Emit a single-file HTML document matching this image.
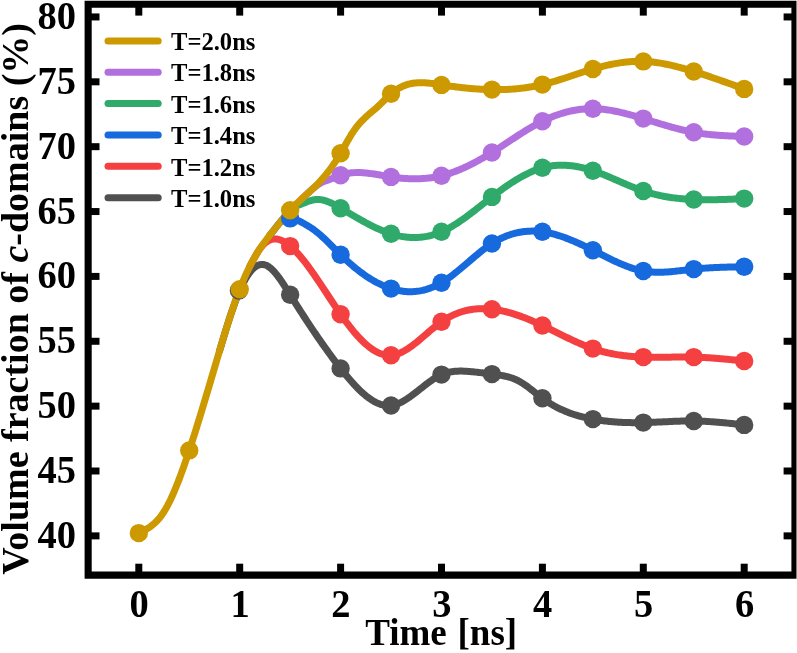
<!DOCTYPE html>
<html><head><meta charset="utf-8"><style>
html,body{margin:0;padding:0;background:#fff;width:797px;height:653px;overflow:hidden}
svg{display:block;will-change:transform}
text{font-family:"Liberation Serif",serif;font-weight:bold;fill:#000}
.tk{font-size:38.5px}
.lg{font-size:24.6px}
.ttl{font-size:36.6px}
</style></head><body>
<svg width="797" height="653" viewBox="0 0 797 653">
<rect x="0" y="0" width="797" height="653" fill="#fff"/>
<polyline points="219.52,350.94 221.02,345.92 222.52,340.94 224.02,336.01 225.52,331.12 227.02,326.29 228.51,321.55 230.01,316.91 231.51,312.39 233.01,308.02 234.51,303.80 236.01,299.75 237.51,295.89 239.01,292.22 240.51,288.77 242.01,285.54 243.51,282.53 245.00,279.74 246.50,277.19 248.00,274.86 249.50,272.76 251.00,270.89 252.50,269.25 254.00,267.85 255.50,266.68 257.00,265.75 258.50,265.06 260.00,264.61 261.49,264.40 262.99,264.44 264.49,264.72 265.99,265.24 267.49,265.99 268.99,266.95 270.49,268.11 271.99,269.45 273.49,270.96 274.99,272.63 276.49,274.43 277.98,276.36 279.48,278.40 280.98,280.53 282.48,282.75 283.98,285.03 285.48,287.36 286.98,289.73 288.48,292.12 289.98,294.52 291.48,296.92 292.98,299.30 294.47,301.68 295.97,304.05 297.47,306.40 298.97,308.75 300.47,311.09 301.97,313.41 303.47,315.73 304.97,318.03 306.47,320.32 307.97,322.60 309.47,324.86 310.96,327.11 312.46,329.35 313.96,331.58 315.46,333.79 316.96,335.98 318.46,338.16 319.96,340.33 321.46,342.48 322.96,344.61 324.46,346.73 325.96,348.83 327.45,350.91 328.95,352.98 330.45,355.03 331.95,357.06 333.45,359.07 334.95,361.06 336.45,363.04 337.95,364.99 339.45,366.93 340.95,368.84 342.45,370.73 343.94,372.60 345.44,374.44 346.94,376.26 348.44,378.04 349.94,379.79 351.44,381.51 352.94,383.19 354.44,384.82 355.94,386.42 357.44,387.97 358.93,389.47 360.43,390.92 361.93,392.31 363.43,393.66 364.93,394.94 366.43,396.17 367.93,397.33 369.43,398.43 370.93,399.46 372.43,400.42 373.93,401.31 375.42,402.12 376.92,402.86 378.42,403.51 379.92,404.09 381.42,404.57 382.92,404.97 384.42,405.28 385.92,405.50 387.42,405.62 388.92,405.64 390.42,405.56 391.91,405.38 393.41,405.10 394.91,404.72 396.41,404.26 397.91,403.70 399.41,403.07 400.91,402.36 402.41,401.59 403.91,400.75 405.41,399.85 406.91,398.90 408.40,397.90 409.90,396.86 411.40,395.78 412.90,394.67 414.40,393.54 415.90,392.38 417.40,391.20 418.90,390.02 420.40,388.83 421.90,387.64 423.40,386.46 424.89,385.29 426.39,384.13 427.89,383.00 429.39,381.89 430.89,380.82 432.39,379.78 433.89,378.79 435.39,377.84 436.89,376.95 438.39,376.12 439.89,375.35 441.38,374.65 442.88,374.03 444.38,373.47 445.88,372.99 447.38,372.57 448.88,372.21 450.38,371.91 451.88,371.66 453.38,371.46 454.88,371.31 456.38,371.20 457.87,371.13 459.37,371.09 460.87,371.09 462.37,371.12 463.87,371.17 465.37,371.24 466.87,371.32 468.37,371.42 469.87,371.54 471.37,371.67 472.87,371.80 474.36,371.95 475.86,372.11 477.36,372.27 478.86,372.45 480.36,372.62 481.86,372.81 483.36,372.99 484.86,373.19 486.36,373.38 487.86,373.57 489.36,373.77 490.85,373.96 492.35,374.15 493.85,374.34 495.35,374.54 496.85,374.74 498.35,374.95 499.85,375.17 501.35,375.42 502.85,375.68 504.35,375.98 505.85,376.30 507.34,376.67 508.84,377.07 510.34,377.51 511.84,378.00 513.34,378.54 514.84,379.14 516.34,379.80 517.84,380.52 519.34,381.31 520.84,382.17 522.34,383.10 523.83,384.08 525.33,385.12 526.83,386.20 528.33,387.32 529.83,388.46 531.33,389.63 532.83,390.82 534.33,392.02 535.83,393.21 537.33,394.40 538.83,395.58 540.32,396.74 541.82,397.87 543.32,398.97 544.82,400.03 546.32,401.06 547.82,402.05 549.32,403.00 550.82,403.93 552.32,404.81 553.82,405.67 555.32,406.50 556.81,407.29 558.31,408.06 559.81,408.79 561.31,409.50 562.81,410.18 564.31,410.83 565.81,411.46 567.31,412.06 568.81,412.64 570.31,413.19 571.81,413.72 573.30,414.22 574.80,414.71 576.30,415.17 577.80,415.61 579.30,416.04 580.80,416.44 582.30,416.83 583.80,417.20 585.30,417.55 586.80,417.89 588.30,418.21 589.79,418.52 591.29,418.81 592.79,419.09 594.29,419.36 595.79,419.61 597.29,419.86 598.79,420.09 600.29,420.31 601.79,420.52 603.29,420.72 604.79,420.91 606.28,421.09 607.78,421.25 609.28,421.41 610.78,421.56 612.28,421.69 613.78,421.82 615.28,421.94 616.78,422.04 618.28,422.14 619.78,422.23 621.27,422.31 622.77,422.38 624.27,422.45 625.77,422.50 627.27,422.55 628.77,422.59 630.27,422.62 631.77,422.65 633.27,422.66 634.77,422.67 636.27,422.67 637.76,422.67 639.26,422.66 640.76,422.64 642.26,422.62 643.76,422.59 645.26,422.56 646.76,422.51 648.26,422.47 649.76,422.42 651.26,422.37 652.76,422.31 654.25,422.25 655.75,422.18 657.25,422.12 658.75,422.05 660.25,421.98 661.75,421.91 663.25,421.84 664.75,421.77 666.25,421.70 667.75,421.63 669.25,421.57 670.74,421.50 672.24,421.43 673.74,421.37 675.24,421.31 676.74,421.26 678.24,421.21 679.74,421.16 681.24,421.12 682.74,421.08 684.24,421.05 685.74,421.02 687.23,421.00 688.73,420.99 690.23,420.98 691.73,420.98 693.23,420.99 694.73,421.01 696.23,421.04 697.73,421.08 699.23,421.12 700.73,421.17 702.23,421.23 703.72,421.30 705.22,421.37 706.72,421.45 708.22,421.54 709.72,421.63 711.22,421.73 712.72,421.84 714.22,421.95 715.72,422.06 717.22,422.18 718.72,422.31 720.21,422.44 721.71,422.57 723.21,422.71 724.71,422.85 726.21,422.99 727.71,423.14 729.21,423.29 730.71,423.45 732.21,423.60 733.71,423.76 735.21,423.92 736.70,424.08 738.20,424.24 739.70,424.41 741.20,424.57 742.70,424.74 744.20,424.90" fill="none" stroke="#505050" stroke-width="7.0" stroke-linejoin="round" stroke-linecap="round"/>
<polyline points="249.79,266.41 251.29,263.52 252.79,260.73 254.28,258.03 255.78,255.40 257.28,252.87 258.78,250.49 260.28,248.32 261.78,246.39 263.27,244.71 264.77,243.26 266.27,242.04 267.77,241.03 269.27,240.23 270.76,239.63 272.26,239.22 273.76,239.00 275.26,238.95 276.76,239.06 278.26,239.33 279.75,239.75 281.25,240.32 282.75,241.01 284.25,241.83 285.75,242.77 287.25,243.81 288.74,244.95 290.24,246.18 291.74,247.49 293.24,248.88 294.74,250.35 296.23,251.89 297.73,253.50 299.23,255.18 300.73,256.91 302.23,258.71 303.73,260.56 305.22,262.47 306.72,264.42 308.22,266.41 309.72,268.45 311.22,270.53 312.71,272.65 314.21,274.79 315.71,276.96 317.21,279.16 318.71,281.38 320.21,283.62 321.70,285.88 323.20,288.14 324.70,290.42 326.20,292.70 327.70,294.98 329.20,297.26 330.69,299.53 332.19,301.80 333.69,304.05 335.19,306.29 336.69,308.51 338.18,310.71 339.68,312.88 341.18,315.03 342.68,317.14 344.18,319.22 345.68,321.27 347.17,323.27 348.67,325.24 350.17,327.16 351.67,329.04 353.17,330.87 354.66,332.66 356.16,334.39 357.66,336.07 359.16,337.70 360.66,339.27 362.16,340.78 363.65,342.22 365.15,343.61 366.65,344.93 368.15,346.18 369.65,347.36 371.15,348.47 372.64,349.50 374.14,350.46 375.64,351.34 377.14,352.13 378.64,352.85 380.13,353.48 381.63,354.02 383.13,354.47 384.63,354.84 386.13,355.10 387.63,355.28 389.12,355.35 390.62,355.33 392.12,355.20 393.62,354.97 395.12,354.65 396.61,354.24 398.11,353.74 399.61,353.16 401.11,352.50 402.61,351.77 404.11,350.97 405.60,350.10 407.10,349.18 408.60,348.20 410.10,347.17 411.60,346.10 413.10,344.98 414.59,343.83 416.09,342.64 417.59,341.42 419.09,340.18 420.59,338.92 422.08,337.65 423.58,336.37 425.08,335.08 426.58,333.78 428.08,332.50 429.58,331.21 431.07,329.94 432.57,328.69 434.07,327.46 435.57,326.25 437.07,325.07 438.56,323.93 440.06,322.82 441.56,321.76 443.06,320.74 444.56,319.77 446.06,318.85 447.55,317.97 449.05,317.13 450.55,316.34 452.05,315.60 453.55,314.89 455.05,314.23 456.54,313.61 458.04,313.02 459.54,312.48 461.04,311.98 462.54,311.52 464.03,311.09 465.53,310.70 467.03,310.35 468.53,310.03 470.03,309.75 471.53,309.50 473.02,309.29 474.52,309.10 476.02,308.96 477.52,308.84 479.02,308.75 480.51,308.70 482.01,308.67 483.51,308.67 485.01,308.71 486.51,308.76 488.01,308.85 489.50,308.96 491.00,309.10 492.50,309.26 494.00,309.45 495.50,309.66 497.00,309.89 498.49,310.15 499.99,310.43 501.49,310.73 502.99,311.05 504.49,311.40 505.98,311.76 507.48,312.14 508.98,312.55 510.48,312.97 511.98,313.41 513.48,313.87 514.97,314.34 516.47,314.83 517.97,315.34 519.47,315.87 520.97,316.41 522.46,316.96 523.96,317.53 525.46,318.11 526.96,318.71 528.46,319.31 529.96,319.93 531.45,320.57 532.95,321.21 534.45,321.87 535.95,322.53 537.45,323.21 538.94,323.89 540.44,324.58 541.94,325.28 543.44,325.99 544.94,326.71 546.44,327.43 547.93,328.16 549.43,328.89 550.93,329.63 552.43,330.37 553.93,331.11 555.43,331.85 556.92,332.60 558.42,333.34 559.92,334.09 561.42,334.83 562.92,335.57 564.41,336.30 565.91,337.03 567.41,337.76 568.91,338.48 570.41,339.20 571.91,339.91 573.40,340.61 574.90,341.30 576.40,341.98 577.90,342.65 579.40,343.31 580.89,343.96 582.39,344.59 583.89,345.21 585.39,345.82 586.89,346.41 588.39,346.99 589.88,347.55 591.38,348.09 592.88,348.61 594.38,349.11 595.88,349.60 597.38,350.07 598.87,350.51 600.37,350.95 601.87,351.36 603.37,351.75 604.87,352.13 606.36,352.50 607.86,352.84 609.36,353.17 610.86,353.49 612.36,353.79 613.86,354.07 615.35,354.34 616.85,354.60 618.35,354.84 619.85,355.06 621.35,355.28 622.84,355.48 624.34,355.67 625.84,355.85 627.34,356.01 628.84,356.16 630.34,356.30 631.83,356.43 633.33,356.55 634.83,356.66 636.33,356.76 637.83,356.85 639.33,356.93 640.82,357.00 642.32,357.06 643.82,357.12 645.32,357.16 646.82,357.20 648.31,357.23 649.81,357.26 651.31,357.27 652.81,357.28 654.31,357.29 655.81,357.29 657.30,357.29 658.80,357.28 660.30,357.27 661.80,357.26 663.30,357.24 664.79,357.22 666.29,357.20 667.79,357.18 669.29,357.16 670.79,357.14 672.29,357.12 673.78,357.10 675.28,357.08 676.78,357.06 678.28,357.04 679.78,357.03 681.28,357.02 682.77,357.01 684.27,357.01 685.77,357.01 687.27,357.01 688.77,357.02 690.26,357.04 691.76,357.06 693.26,357.09 694.76,357.13 696.26,357.17 697.76,357.22 699.25,357.27 700.75,357.34 702.25,357.41 703.75,357.48 705.25,357.56 706.74,357.65 708.24,357.74 709.74,357.84 711.24,357.94 712.74,358.05 714.24,358.16 715.73,358.27 717.23,358.39 718.73,358.52 720.23,358.64 721.73,358.78 723.23,358.91 724.72,359.05 726.22,359.19 727.72,359.33 729.22,359.47 730.72,359.62 732.21,359.77 733.71,359.92 735.21,360.07 736.71,360.22 738.21,360.38 739.71,360.53 741.20,360.69 742.70,360.84 744.20,361.00" fill="none" stroke="#F44040" stroke-width="7.0" stroke-linejoin="round" stroke-linecap="round"/>
<polyline points="269.97,235.04 271.47,233.18 272.96,231.34 274.46,229.45 275.95,227.48 277.45,225.50 278.95,223.64 280.44,222.02 281.94,220.74 283.43,219.77 284.93,219.08 286.43,218.64 287.92,218.41 289.42,218.36 290.91,218.47 292.41,218.71 293.91,219.07 295.40,219.53 296.90,220.09 298.39,220.72 299.89,221.42 301.39,222.18 302.88,222.98 304.38,223.81 305.87,224.67 307.37,225.55 308.87,226.46 310.36,227.41 311.86,228.40 313.35,229.44 314.85,230.53 316.35,231.67 317.84,232.87 319.34,234.13 320.83,235.43 322.33,236.78 323.83,238.16 325.32,239.58 326.82,241.03 328.31,242.50 329.81,243.98 331.31,245.49 332.80,247.00 334.30,248.51 335.79,250.02 337.29,251.52 338.79,253.01 340.28,254.49 341.78,255.94 343.27,257.37 344.77,258.78 346.27,260.16 347.76,261.52 349.26,262.85 350.75,264.16 352.25,265.44 353.75,266.70 355.24,267.93 356.74,269.13 358.23,270.31 359.73,271.46 361.23,272.58 362.72,273.67 364.22,274.74 365.71,275.77 367.21,276.78 368.71,277.76 370.20,278.70 371.70,279.62 373.19,280.51 374.69,281.36 376.19,282.19 377.68,282.98 379.18,283.74 380.67,284.47 382.17,285.17 383.67,285.83 385.16,286.46 386.66,287.05 388.15,287.61 389.65,288.14 391.15,288.63 392.64,289.09 394.14,289.51 395.63,289.89 397.13,290.24 398.63,290.55 400.12,290.83 401.62,291.06 403.11,291.26 404.61,291.43 406.11,291.55 407.60,291.64 409.10,291.69 410.59,291.70 412.09,291.67 413.59,291.60 415.08,291.49 416.58,291.34 418.07,291.15 419.57,290.92 421.07,290.65 422.56,290.34 424.06,289.98 425.55,289.59 427.05,289.15 428.55,288.67 430.04,288.15 431.54,287.58 433.03,286.97 434.53,286.32 436.03,285.63 437.52,284.89 439.02,284.10 440.51,283.27 442.01,282.40 443.51,281.48 445.00,280.52 446.50,279.52 447.99,278.48 449.49,277.41 450.99,276.31 452.48,275.18 453.98,274.02 455.47,272.84 456.97,271.64 458.47,270.41 459.96,269.17 461.46,267.92 462.95,266.66 464.45,265.39 465.95,264.11 467.44,262.82 468.94,261.54 470.43,260.26 471.93,258.98 473.43,257.71 474.92,256.44 476.42,255.19 477.91,253.96 479.41,252.74 480.91,251.53 482.40,250.35 483.90,249.20 485.39,248.07 486.89,246.97 488.39,245.90 489.88,244.87 491.38,243.87 492.87,242.91 494.37,242.00 495.87,241.12 497.36,240.28 498.86,239.48 500.35,238.72 501.85,238.00 503.35,237.32 504.84,236.68 506.34,236.07 507.83,235.50 509.33,234.96 510.82,234.46 512.32,234.00 513.82,233.58 515.31,233.19 516.81,232.83 518.30,232.51 519.80,232.22 521.30,231.97 522.79,231.75 524.29,231.56 525.78,231.41 527.28,231.29 528.78,231.20 530.27,231.14 531.77,231.11 533.26,231.12 534.76,231.15 536.26,231.22 537.75,231.32 539.25,231.44 540.74,231.60 542.24,231.78 543.74,231.99 545.23,232.23 546.73,232.50 548.22,232.79 549.72,233.11 551.22,233.46 552.71,233.82 554.21,234.22 555.70,234.63 557.20,235.07 558.70,235.53 560.19,236.01 561.69,236.51 563.18,237.02 564.68,237.56 566.18,238.12 567.67,238.69 569.17,239.28 570.66,239.88 572.16,240.50 573.66,241.13 575.15,241.78 576.65,242.44 578.14,243.11 579.64,243.79 581.14,244.49 582.63,245.19 584.13,245.90 585.62,246.62 587.12,247.35 588.62,248.09 590.11,248.83 591.61,249.58 593.10,250.33 594.60,251.08 596.10,251.84 597.59,252.61 599.09,253.37 600.58,254.13 602.08,254.89 603.58,255.65 605.07,256.40 606.57,257.15 608.06,257.89 609.56,258.63 611.06,259.36 612.55,260.08 614.05,260.79 615.54,261.49 617.04,262.17 618.54,262.84 620.03,263.50 621.53,264.14 623.02,264.77 624.52,265.37 626.02,265.96 627.51,266.53 629.01,267.07 630.50,267.60 632.00,268.10 633.50,268.57 634.99,269.02 636.49,269.44 637.98,269.84 639.48,270.20 640.98,270.54 642.47,270.85 643.97,271.12 645.46,271.36 646.96,271.57 648.46,271.75 649.95,271.90 651.45,272.02 652.94,272.11 654.44,272.18 655.94,272.23 657.43,272.26 658.93,272.26 660.42,272.24 661.92,272.20 663.42,272.15 664.91,272.08 666.41,271.99 667.90,271.89 669.40,271.77 670.90,271.65 672.39,271.51 673.89,271.36 675.38,271.21 676.88,271.05 678.38,270.88 679.87,270.71 681.37,270.53 682.86,270.35 684.36,270.17 685.86,269.99 687.35,269.82 688.85,269.64 690.34,269.47 691.84,269.30 693.34,269.14 694.83,268.99 696.33,268.84 697.82,268.71 699.32,268.57 700.82,268.45 702.31,268.33 703.81,268.22 705.30,268.12 706.80,268.02 708.30,267.92 709.79,267.84 711.29,267.75 712.78,267.68 714.28,267.60 715.78,267.53 717.27,267.47 718.77,267.41 720.26,267.35 721.76,267.30 723.26,267.25 724.75,267.21 726.25,267.16 727.74,267.12 729.24,267.09 730.74,267.05 732.23,267.02 733.73,266.99 735.22,266.96 736.72,266.93 738.22,266.90 739.71,266.88 741.21,266.85 742.70,266.82 744.20,266.80" fill="none" stroke="#166ADE" stroke-width="7.0" stroke-linejoin="round" stroke-linecap="round"/>
<polyline points="280.06,222.41 281.56,220.55 283.05,218.70 284.55,216.85 286.05,214.99 287.55,213.15 289.04,211.44 290.54,209.93 292.04,208.67 293.54,207.62 295.03,206.74 296.53,206.00 298.03,205.36 299.52,204.77 301.02,204.19 302.52,203.60 304.02,203.00 305.51,202.40 307.01,201.82 308.51,201.27 310.00,200.77 311.50,200.33 313.00,199.96 314.50,199.68 315.99,199.50 317.49,199.44 318.99,199.48 320.49,199.63 321.98,199.88 323.48,200.21 324.98,200.63 326.47,201.12 327.97,201.68 329.47,202.30 330.97,202.98 332.46,203.71 333.96,204.48 335.46,205.28 336.95,206.11 338.45,206.96 339.95,207.82 341.45,208.69 342.94,209.57 344.44,210.44 345.94,211.32 347.44,212.20 348.93,213.08 350.43,213.96 351.93,214.84 353.42,215.71 354.92,216.58 356.42,217.44 357.92,218.30 359.41,219.15 360.91,219.99 362.41,220.82 363.90,221.65 365.40,222.46 366.90,223.26 368.40,224.05 369.89,224.83 371.39,225.59 372.89,226.34 374.39,227.06 375.88,227.78 377.38,228.47 378.88,229.15 380.37,229.80 381.87,230.43 383.37,231.04 384.87,231.63 386.36,232.20 387.86,232.74 389.36,233.25 390.85,233.74 392.35,234.20 393.85,234.63 395.35,235.03 396.84,235.41 398.34,235.75 399.84,236.07 401.34,236.35 402.83,236.61 404.33,236.84 405.83,237.03 407.32,237.20 408.82,237.33 410.32,237.43 411.82,237.50 413.31,237.54 414.81,237.54 416.31,237.51 417.80,237.45 419.30,237.36 420.80,237.23 422.30,237.06 423.79,236.87 425.29,236.63 426.79,236.37 428.29,236.06 429.78,235.72 431.28,235.35 432.78,234.94 434.27,234.49 435.77,234.00 437.27,233.48 438.77,232.92 440.26,232.32 441.76,231.69 443.26,231.01 444.75,230.30 446.25,229.55 447.75,228.77 449.25,227.96 450.74,227.11 452.24,226.23 453.74,225.33 455.24,224.40 456.73,223.44 458.23,222.46 459.73,221.45 461.22,220.43 462.72,219.38 464.22,218.31 465.72,217.23 467.21,216.13 468.71,215.02 470.21,213.89 471.70,212.75 473.20,211.60 474.70,210.44 476.20,209.28 477.69,208.11 479.19,206.93 480.69,205.75 482.19,204.57 483.68,203.38 485.18,202.20 486.68,201.02 488.17,199.84 489.67,198.67 491.17,197.51 492.67,196.35 494.16,195.20 495.66,194.06 497.16,192.93 498.65,191.81 500.15,190.71 501.65,189.61 503.15,188.53 504.64,187.47 506.14,186.42 507.64,185.39 509.14,184.37 510.63,183.37 512.13,182.39 513.63,181.43 515.12,180.49 516.62,179.57 518.12,178.67 519.62,177.79 521.11,176.94 522.61,176.11 524.11,175.31 525.61,174.53 527.10,173.78 528.60,173.05 530.10,172.36 531.59,171.69 533.09,171.05 534.59,170.44 536.09,169.87 537.58,169.32 539.08,168.81 540.58,168.33 542.07,167.89 543.57,167.48 545.07,167.11 546.57,166.77 548.06,166.47 549.56,166.20 551.06,165.96 552.56,165.76 554.05,165.59 555.55,165.45 557.05,165.34 558.54,165.26 560.04,165.21 561.54,165.19 563.04,165.20 564.53,165.24 566.03,165.30 567.53,165.40 569.02,165.52 570.52,165.67 572.02,165.84 573.52,166.04 575.01,166.27 576.51,166.52 578.01,166.79 579.51,167.09 581.00,167.41 582.50,167.75 584.00,168.12 585.49,168.50 586.99,168.91 588.49,169.34 589.99,169.79 591.48,170.26 592.98,170.74 594.48,171.25 595.97,171.77 597.47,172.31 598.97,172.87 600.47,173.44 601.96,174.02 603.46,174.61 604.96,175.22 606.46,175.84 607.95,176.46 609.45,177.09 610.95,177.73 612.44,178.37 613.94,179.02 615.44,179.67 616.94,180.32 618.43,180.98 619.93,181.63 621.43,182.29 622.92,182.94 624.42,183.58 625.92,184.23 627.42,184.86 628.91,185.50 630.41,186.12 631.91,186.73 633.41,187.34 634.90,187.93 636.40,188.51 637.90,189.08 639.39,189.63 640.89,190.17 642.39,190.69 643.89,191.19 645.38,191.68 646.88,192.15 648.38,192.60 649.87,193.03 651.37,193.45 652.87,193.85 654.37,194.23 655.86,194.60 657.36,194.95 658.86,195.28 660.36,195.61 661.85,195.91 663.35,196.20 664.85,196.48 666.34,196.75 667.84,197.00 669.34,197.23 670.84,197.46 672.33,197.67 673.83,197.87 675.33,198.05 676.82,198.23 678.32,198.39 679.82,198.55 681.32,198.69 682.81,198.82 684.31,198.94 685.81,199.06 687.31,199.16 688.80,199.25 690.30,199.34 691.80,199.41 693.29,199.48 694.79,199.54 696.29,199.59 697.79,199.64 699.28,199.68 700.78,199.71 702.28,199.73 703.77,199.75 705.27,199.76 706.77,199.76 708.27,199.76 709.76,199.76 711.26,199.74 712.76,199.73 714.26,199.70 715.75,199.68 717.25,199.65 718.75,199.61 720.24,199.57 721.74,199.53 723.24,199.48 724.74,199.43 726.23,199.38 727.73,199.33 729.23,199.27 730.72,199.21 732.22,199.15 733.72,199.08 735.22,199.02 736.71,198.95 738.21,198.88 739.71,198.81 741.21,198.74 742.70,198.67 744.20,198.60" fill="none" stroke="#30AA6A" stroke-width="7.0" stroke-linejoin="round" stroke-linecap="round"/>
<polyline points="302.26,198.38 303.76,197.02 305.25,195.66 306.75,194.28 308.25,192.88 309.75,191.50 311.25,190.13 312.74,188.81 314.24,187.54 315.74,186.34 317.24,185.22 318.74,184.19 320.24,183.26 321.73,182.43 323.23,181.73 324.73,181.12 326.23,180.58 327.73,180.08 329.22,179.57 330.72,179.04 332.22,178.46 333.72,177.87 335.22,177.26 336.71,176.65 338.21,176.06 339.71,175.51 341.21,175.00 342.71,174.54 344.21,174.14 345.70,173.79 347.20,173.49 348.70,173.23 350.20,173.02 351.70,172.85 353.19,172.72 354.69,172.63 356.19,172.57 357.69,172.55 359.19,172.57 360.68,172.61 362.18,172.68 363.68,172.78 365.18,172.90 366.68,173.05 368.17,173.22 369.67,173.40 371.17,173.60 372.67,173.82 374.17,174.05 375.67,174.29 377.16,174.54 378.66,174.79 380.16,175.05 381.66,175.32 383.16,175.58 384.65,175.84 386.15,176.10 387.65,176.35 389.15,176.60 390.65,176.84 392.14,177.06 393.64,177.28 395.14,177.48 396.64,177.67 398.14,177.84 399.64,178.01 401.13,178.16 402.63,178.29 404.13,178.41 405.63,178.52 407.13,178.61 408.62,178.68 410.12,178.74 411.62,178.78 413.12,178.81 414.62,178.82 416.11,178.81 417.61,178.78 419.11,178.74 420.61,178.68 422.11,178.60 423.60,178.50 425.10,178.38 426.60,178.24 428.10,178.08 429.60,177.90 431.10,177.70 432.59,177.47 434.09,177.23 435.59,176.97 437.09,176.68 438.59,176.37 440.08,176.04 441.58,175.68 443.08,175.30 444.58,174.90 446.08,174.47 447.57,174.02 449.07,173.55 450.57,173.06 452.07,172.55 453.57,172.02 455.07,171.46 456.56,170.89 458.06,170.29 459.56,169.68 461.06,169.05 462.56,168.40 464.05,167.73 465.55,167.04 467.05,166.34 468.55,165.62 470.05,164.89 471.54,164.13 473.04,163.37 474.54,162.58 476.04,161.78 477.54,160.97 479.03,160.15 480.53,159.31 482.03,158.45 483.53,157.59 485.03,156.71 486.53,155.82 488.02,154.92 489.52,154.00 491.02,153.08 492.52,152.14 494.02,151.20 495.51,150.25 497.01,149.29 498.51,148.32 500.01,147.34 501.51,146.36 503.00,145.38 504.50,144.39 506.00,143.40 507.50,142.41 509.00,141.42 510.50,140.43 511.99,139.44 513.49,138.46 514.99,137.47 516.49,136.50 517.99,135.52 519.48,134.55 520.98,133.59 522.48,132.64 523.98,131.70 525.48,130.77 526.97,129.84 528.47,128.93 529.97,128.03 531.47,127.15 532.97,126.28 534.46,125.43 535.96,124.59 537.46,123.77 538.96,122.97 540.46,122.18 541.96,121.42 543.45,120.68 544.95,119.96 546.45,119.26 547.95,118.59 549.45,117.93 550.94,117.30 552.44,116.69 553.94,116.10 555.44,115.53 556.94,114.99 558.43,114.47 559.93,113.97 561.43,113.49 562.93,113.03 564.43,112.60 565.93,112.19 567.42,111.80 568.92,111.43 570.42,111.09 571.92,110.77 573.42,110.47 574.91,110.20 576.41,109.95 577.91,109.72 579.41,109.51 580.91,109.33 582.40,109.17 583.90,109.03 585.40,108.92 586.90,108.83 588.40,108.76 589.89,108.72 591.39,108.70 592.89,108.70 594.39,108.73 595.89,108.78 597.39,108.85 598.88,108.95 600.38,109.06 601.88,109.20 603.38,109.35 604.88,109.53 606.37,109.72 607.87,109.93 609.37,110.16 610.87,110.41 612.37,110.67 613.86,110.95 615.36,111.24 616.86,111.55 618.36,111.86 619.86,112.20 621.36,112.54 622.85,112.90 624.35,113.27 625.85,113.64 627.35,114.03 628.85,114.43 630.34,114.83 631.84,115.25 633.34,115.67 634.84,116.09 636.34,116.53 637.83,116.97 639.33,117.41 640.83,117.86 642.33,118.31 643.83,118.76 645.32,119.22 646.82,119.67 648.32,120.13 649.82,120.59 651.32,121.05 652.82,121.51 654.31,121.97 655.81,122.43 657.31,122.89 658.81,123.34 660.31,123.79 661.80,124.24 663.30,124.69 664.80,125.13 666.30,125.57 667.80,126.00 669.29,126.43 670.79,126.86 672.29,127.27 673.79,127.68 675.29,128.09 676.79,128.48 678.28,128.87 679.78,129.25 681.28,129.62 682.78,129.98 684.28,130.33 685.77,130.67 687.27,131.00 688.77,131.32 690.27,131.63 691.77,131.93 693.26,132.21 694.76,132.48 696.26,132.74 697.76,132.98 699.26,133.22 700.75,133.44 702.25,133.65 703.75,133.85 705.25,134.03 706.75,134.21 708.25,134.38 709.74,134.54 711.24,134.69 712.74,134.83 714.24,134.96 715.74,135.09 717.23,135.21 718.73,135.32 720.23,135.42 721.73,135.52 723.23,135.61 724.72,135.70 726.22,135.78 727.72,135.85 729.22,135.93 730.72,136.00 732.22,136.06 733.71,136.12 735.21,136.18 736.71,136.24 738.21,136.29 739.71,136.35 741.20,136.40 742.70,136.45 744.20,136.50" fill="none" stroke="#B270DE" stroke-width="7.0" stroke-linejoin="round" stroke-linecap="round"/>
<polyline points="138.80,533.10 140.30,532.37 141.80,531.63 143.30,530.87 144.79,530.07 146.29,529.23 147.79,528.33 149.29,527.36 150.79,526.30 152.29,525.16 153.79,523.91 155.28,522.54 156.78,521.05 158.28,519.42 159.78,517.63 161.28,515.69 162.78,513.57 164.27,511.26 165.77,508.77 167.27,506.08 168.77,503.22 170.27,500.19 171.77,497.00 173.27,493.65 174.76,490.16 176.26,486.53 177.76,482.76 179.26,478.88 180.76,474.88 182.26,470.77 183.76,466.56 185.25,462.26 186.75,457.87 188.25,453.41 189.75,448.88 191.25,444.29 192.75,439.64 194.25,434.94 195.74,430.19 197.24,425.39 198.74,420.54 200.24,415.66 201.74,410.74 203.24,405.78 204.73,400.80 206.23,395.80 207.73,390.77 209.23,385.73 210.73,380.67 212.23,375.60 213.73,370.52 215.22,365.45 216.72,360.37 218.22,355.31 219.72,350.27 221.22,345.26 222.72,340.28 224.22,335.36 225.71,330.49 227.21,325.68 228.71,320.95 230.21,316.29 231.71,311.73 233.21,307.27 234.70,302.92 236.20,298.68 237.70,294.57 239.20,290.59 240.70,286.76 242.20,283.07 243.70,279.52 245.19,276.10 246.69,272.81 248.19,269.65 249.69,266.61 251.19,263.69 252.69,260.89 254.19,258.19 255.68,255.60 257.18,253.11 258.68,250.72 260.18,248.42 261.68,246.20 263.18,244.06 264.68,241.98 266.17,239.96 267.67,237.99 269.17,236.06 270.67,234.15 272.17,232.27 273.67,230.41 275.16,228.54 276.66,226.67 278.16,224.79 279.66,222.91 281.16,221.03 282.66,219.16 284.16,217.32 285.65,215.50 287.15,213.72 288.65,211.98 290.15,210.30 291.65,208.67 293.15,207.10 294.65,205.58 296.14,204.10 297.64,202.65 299.14,201.24 300.64,199.85 302.14,198.48 303.64,197.12 305.14,195.77 306.63,194.41 308.13,193.06 309.63,191.69 311.13,190.30 312.63,188.89 314.13,187.45 315.62,185.98 317.12,184.46 318.62,182.90 320.12,181.30 321.62,179.64 323.12,177.93 324.62,176.17 326.11,174.36 327.61,172.48 329.11,170.54 330.61,168.53 332.11,166.46 333.61,164.32 335.11,162.10 336.60,159.81 338.10,157.43 339.60,154.98 341.10,152.45 342.60,149.83 344.10,147.18 345.60,144.50 347.09,141.83 348.59,139.21 350.09,136.65 351.59,134.20 353.09,131.87 354.59,129.69 356.08,127.65 357.58,125.74 359.08,123.95 360.58,122.27 362.08,120.68 363.58,119.17 365.08,117.73 366.57,116.35 368.07,115.01 369.57,113.71 371.07,112.43 372.57,111.17 374.07,109.89 375.57,108.61 377.06,107.29 378.56,105.94 380.06,104.54 381.56,103.08 383.06,101.59 384.56,100.07 386.05,98.56 387.55,97.06 389.05,95.62 390.55,94.24 392.05,92.95 393.55,91.75 395.05,90.64 396.54,89.62 398.04,88.68 399.54,87.82 401.04,87.04 402.54,86.34 404.04,85.71 405.54,85.15 407.03,84.65 408.53,84.22 410.03,83.85 411.53,83.53 413.03,83.28 414.53,83.07 416.03,82.91 417.52,82.80 419.02,82.73 420.52,82.70 422.02,82.71 423.52,82.76 425.02,82.83 426.51,82.94 428.01,83.07 429.51,83.22 431.01,83.39 432.51,83.58 434.01,83.78 435.51,83.99 437.00,84.22 438.50,84.44 440.00,84.67 441.50,84.90 443.00,85.13 444.50,85.35 446.00,85.56 447.49,85.78 448.99,85.99 450.49,86.19 451.99,86.39 453.49,86.59 454.99,86.78 456.49,86.97 457.98,87.15 459.48,87.32 460.98,87.50 462.48,87.66 463.98,87.82 465.48,87.98 466.97,88.12 468.47,88.27 469.97,88.40 471.47,88.53 472.97,88.65 474.47,88.77 475.97,88.88 477.46,88.98 478.96,89.08 480.46,89.17 481.96,89.25 483.46,89.33 484.96,89.39 486.46,89.45 487.95,89.50 489.45,89.55 490.95,89.58 492.45,89.61 493.95,89.63 495.45,89.64 496.95,89.64 498.44,89.63 499.94,89.61 501.44,89.58 502.94,89.55 504.44,89.50 505.94,89.45 507.43,89.38 508.93,89.31 510.43,89.22 511.93,89.12 513.43,89.02 514.93,88.90 516.43,88.77 517.92,88.63 519.42,88.48 520.92,88.31 522.42,88.14 523.92,87.95 525.42,87.75 526.92,87.54 528.41,87.32 529.91,87.08 531.41,86.83 532.91,86.57 534.41,86.30 535.91,86.01 537.40,85.71 538.90,85.39 540.40,85.06 541.90,84.72 543.40,84.36 544.90,83.99 546.40,83.60 547.89,83.21 549.39,82.80 550.89,82.38 552.39,81.95 553.89,81.51 555.39,81.06 556.89,80.61 558.38,80.14 559.88,79.67 561.38,79.20 562.88,78.71 564.38,78.23 565.88,77.74 567.38,77.24 568.87,76.74 570.37,76.25 571.87,75.75 573.37,75.25 574.87,74.74 576.37,74.24 577.86,73.75 579.36,73.25 580.86,72.76 582.36,72.27 583.86,71.78 585.36,71.30 586.86,70.83 588.35,70.36 589.85,69.90 591.35,69.44 592.85,69.00 594.35,68.56 595.85,68.14 597.35,67.72 598.84,67.31 600.34,66.92 601.84,66.53 603.34,66.16 604.84,65.80 606.34,65.45 607.84,65.11 609.33,64.78 610.83,64.47 612.33,64.16 613.83,63.88 615.33,63.60 616.83,63.34 618.32,63.10 619.82,62.87 621.32,62.65 622.82,62.45 624.32,62.26 625.82,62.09 627.32,61.94 628.81,61.80 630.31,61.68 631.81,61.58 633.31,61.50 634.81,61.43 636.31,61.38 637.81,61.35 639.30,61.34 640.80,61.34 642.30,61.37 643.80,61.42 645.30,61.48 646.80,61.57 648.30,61.67 649.79,61.80 651.29,61.94 652.79,62.10 654.29,62.27 655.79,62.46 657.29,62.67 658.78,62.90 660.28,63.14 661.78,63.39 663.28,63.66 664.78,63.94 666.28,64.24 667.78,64.55 669.27,64.87 670.77,65.20 672.27,65.55 673.77,65.90 675.27,66.27 676.77,66.65 678.27,67.03 679.76,67.43 681.26,67.84 682.76,68.25 684.26,68.67 685.76,69.10 687.26,69.54 688.75,69.98 690.25,70.43 691.75,70.89 693.25,71.35 694.75,71.81 696.25,72.28 697.75,72.75 699.24,73.23 700.74,73.72 702.24,74.20 703.74,74.69 705.24,75.19 706.74,75.69 708.24,76.19 709.73,76.69 711.23,77.20 712.73,77.71 714.23,78.22 715.73,78.74 717.23,79.26 718.73,79.78 720.22,80.31 721.72,80.83 723.22,81.36 724.72,81.89 726.22,82.42 727.72,82.96 729.21,83.49 730.71,84.03 732.21,84.57 733.71,85.11 735.21,85.65 736.71,86.19 738.21,86.73 739.70,87.27 741.20,87.81 742.70,88.36 744.20,88.90" fill="none" stroke="#CC9900" stroke-width="7.0" stroke-linejoin="round" stroke-linecap="round"/>
<circle cx="238.90" cy="290.60" r="9.2" fill="#505050"/><circle cx="290.15" cy="294.80" r="9.2" fill="#505050"/><circle cx="340.60" cy="368.40" r="9.2" fill="#505050"/><circle cx="391.05" cy="405.50" r="9.2" fill="#505050"/><circle cx="441.50" cy="374.60" r="9.2" fill="#505050"/><circle cx="491.95" cy="374.10" r="9.2" fill="#505050"/><circle cx="542.40" cy="398.30" r="9.2" fill="#505050"/><circle cx="592.85" cy="419.10" r="9.2" fill="#505050"/><circle cx="643.30" cy="422.60" r="9.2" fill="#505050"/><circle cx="693.75" cy="421.00" r="9.2" fill="#505050"/><circle cx="744.20" cy="424.90" r="9.2" fill="#505050"/>
<circle cx="290.15" cy="246.10" r="9.2" fill="#F44040"/><circle cx="340.60" cy="314.20" r="9.2" fill="#F44040"/><circle cx="391.05" cy="355.30" r="9.2" fill="#F44040"/><circle cx="441.50" cy="321.80" r="9.2" fill="#F44040"/><circle cx="491.95" cy="309.20" r="9.2" fill="#F44040"/><circle cx="542.40" cy="325.50" r="9.2" fill="#F44040"/><circle cx="592.85" cy="348.60" r="9.2" fill="#F44040"/><circle cx="643.30" cy="357.10" r="9.2" fill="#F44040"/><circle cx="693.75" cy="357.10" r="9.2" fill="#F44040"/><circle cx="744.20" cy="361.00" r="9.2" fill="#F44040"/>
<circle cx="290.15" cy="218.40" r="9.2" fill="#166ADE"/><circle cx="340.60" cy="254.80" r="9.2" fill="#166ADE"/><circle cx="391.05" cy="288.60" r="9.2" fill="#166ADE"/><circle cx="441.50" cy="282.70" r="9.2" fill="#166ADE"/><circle cx="491.95" cy="243.50" r="9.2" fill="#166ADE"/><circle cx="542.40" cy="231.80" r="9.2" fill="#166ADE"/><circle cx="592.85" cy="250.20" r="9.2" fill="#166ADE"/><circle cx="643.30" cy="271.00" r="9.2" fill="#166ADE"/><circle cx="693.75" cy="269.10" r="9.2" fill="#166ADE"/><circle cx="744.20" cy="266.80" r="9.2" fill="#166ADE"/>
<circle cx="340.60" cy="208.20" r="9.2" fill="#30AA6A"/><circle cx="391.05" cy="233.80" r="9.2" fill="#30AA6A"/><circle cx="441.50" cy="231.80" r="9.2" fill="#30AA6A"/><circle cx="491.95" cy="196.90" r="9.2" fill="#30AA6A"/><circle cx="542.40" cy="167.80" r="9.2" fill="#30AA6A"/><circle cx="592.85" cy="170.70" r="9.2" fill="#30AA6A"/><circle cx="643.30" cy="191.00" r="9.2" fill="#30AA6A"/><circle cx="693.75" cy="199.50" r="9.2" fill="#30AA6A"/><circle cx="744.20" cy="198.60" r="9.2" fill="#30AA6A"/>
<circle cx="340.60" cy="175.20" r="9.2" fill="#B270DE"/><circle cx="391.05" cy="176.90" r="9.2" fill="#B270DE"/><circle cx="441.50" cy="175.70" r="9.2" fill="#B270DE"/><circle cx="491.95" cy="152.50" r="9.2" fill="#B270DE"/><circle cx="542.40" cy="121.20" r="9.2" fill="#B270DE"/><circle cx="592.85" cy="108.70" r="9.2" fill="#B270DE"/><circle cx="643.30" cy="118.60" r="9.2" fill="#B270DE"/><circle cx="693.75" cy="132.30" r="9.2" fill="#B270DE"/><circle cx="744.20" cy="136.50" r="9.2" fill="#B270DE"/>
<circle cx="138.80" cy="533.10" r="9.2" fill="#CC9900"/><circle cx="189.25" cy="450.40" r="9.2" fill="#CC9900"/><circle cx="239.70" cy="289.30" r="9.2" fill="#CC9900"/><circle cx="290.15" cy="210.30" r="9.2" fill="#CC9900"/><circle cx="340.60" cy="153.30" r="9.2" fill="#CC9900"/><circle cx="391.05" cy="93.80" r="9.2" fill="#CC9900"/><circle cx="441.50" cy="84.90" r="9.2" fill="#CC9900"/><circle cx="491.95" cy="89.60" r="9.2" fill="#CC9900"/><circle cx="542.40" cy="84.60" r="9.2" fill="#CC9900"/><circle cx="592.85" cy="69.00" r="9.2" fill="#CC9900"/><circle cx="643.30" cy="61.40" r="9.2" fill="#CC9900"/><circle cx="693.75" cy="71.50" r="9.2" fill="#CC9900"/><circle cx="744.20" cy="88.90" r="9.2" fill="#CC9900"/>

<line x1="108" y1="40.90" x2="158.2" y2="40.90" stroke="#CC9900" stroke-width="7.0" stroke-linecap="round"/><text x="171" y="49.50" class="lg">T=2.0ns</text><line x1="108" y1="72.26" x2="158.2" y2="72.26" stroke="#B270DE" stroke-width="7.0" stroke-linecap="round"/><text x="171" y="81.02" class="lg">T=1.8ns</text><line x1="108" y1="103.62" x2="158.2" y2="103.62" stroke="#30AA6A" stroke-width="7.0" stroke-linecap="round"/><text x="171" y="112.54" class="lg">T=1.6ns</text><line x1="108" y1="134.98" x2="158.2" y2="134.98" stroke="#166ADE" stroke-width="7.0" stroke-linecap="round"/><text x="171" y="144.06" class="lg">T=1.4ns</text><line x1="108" y1="166.34" x2="158.2" y2="166.34" stroke="#F44040" stroke-width="7.0" stroke-linecap="round"/><text x="171" y="175.58" class="lg">T=1.2ns</text><line x1="108" y1="197.70" x2="158.2" y2="197.70" stroke="#505050" stroke-width="7.0" stroke-linecap="round"/><text x="171" y="207.10" class="lg">T=1.0ns</text>
<path d="M84.6,0.7H796.5V578.7H84.6Z M91.7,7.8V571.5H791.4V7.8Z" fill="#000" fill-rule="evenodd"/>
<line x1="138.80" y1="575.05" x2="138.80" y2="563.70" stroke="#000" stroke-width="7.0"/><line x1="138.80" y1="4.25" x2="138.80" y2="15.60" stroke="#000" stroke-width="7.0"/><line x1="239.70" y1="575.05" x2="239.70" y2="563.70" stroke="#000" stroke-width="7.0"/><line x1="239.70" y1="4.25" x2="239.70" y2="15.60" stroke="#000" stroke-width="7.0"/><line x1="340.60" y1="575.05" x2="340.60" y2="563.70" stroke="#000" stroke-width="7.0"/><line x1="340.60" y1="4.25" x2="340.60" y2="15.60" stroke="#000" stroke-width="7.0"/><line x1="441.50" y1="575.05" x2="441.50" y2="563.70" stroke="#000" stroke-width="7.0"/><line x1="441.50" y1="4.25" x2="441.50" y2="15.60" stroke="#000" stroke-width="7.0"/><line x1="542.40" y1="575.05" x2="542.40" y2="563.70" stroke="#000" stroke-width="7.0"/><line x1="542.40" y1="4.25" x2="542.40" y2="15.60" stroke="#000" stroke-width="7.0"/><line x1="643.30" y1="575.05" x2="643.30" y2="563.70" stroke="#000" stroke-width="7.0"/><line x1="643.30" y1="4.25" x2="643.30" y2="15.60" stroke="#000" stroke-width="7.0"/><line x1="744.20" y1="575.05" x2="744.20" y2="563.70" stroke="#000" stroke-width="7.0"/><line x1="744.20" y1="4.25" x2="744.20" y2="15.60" stroke="#000" stroke-width="7.0"/><line x1="88.14999999999999" y1="535.87" x2="99.50" y2="535.87" stroke="#000" stroke-width="7.0"/><line x1="794.9499999999999" y1="535.87" x2="783.60" y2="535.87" stroke="#000" stroke-width="7.0"/><line x1="88.14999999999999" y1="471.00" x2="99.50" y2="471.00" stroke="#000" stroke-width="7.0"/><line x1="794.9499999999999" y1="471.00" x2="783.60" y2="471.00" stroke="#000" stroke-width="7.0"/><line x1="88.14999999999999" y1="406.14" x2="99.50" y2="406.14" stroke="#000" stroke-width="7.0"/><line x1="794.9499999999999" y1="406.14" x2="783.60" y2="406.14" stroke="#000" stroke-width="7.0"/><line x1="88.14999999999999" y1="341.28" x2="99.50" y2="341.28" stroke="#000" stroke-width="7.0"/><line x1="794.9499999999999" y1="341.28" x2="783.60" y2="341.28" stroke="#000" stroke-width="7.0"/><line x1="88.14999999999999" y1="276.41" x2="99.50" y2="276.41" stroke="#000" stroke-width="7.0"/><line x1="794.9499999999999" y1="276.41" x2="783.60" y2="276.41" stroke="#000" stroke-width="7.0"/><line x1="88.14999999999999" y1="211.54" x2="99.50" y2="211.54" stroke="#000" stroke-width="7.0"/><line x1="794.9499999999999" y1="211.54" x2="783.60" y2="211.54" stroke="#000" stroke-width="7.0"/><line x1="88.14999999999999" y1="146.68" x2="99.50" y2="146.68" stroke="#000" stroke-width="7.0"/><line x1="794.9499999999999" y1="146.68" x2="783.60" y2="146.68" stroke="#000" stroke-width="7.0"/><line x1="88.14999999999999" y1="81.82" x2="99.50" y2="81.82" stroke="#000" stroke-width="7.0"/><line x1="794.9499999999999" y1="81.82" x2="783.60" y2="81.82" stroke="#000" stroke-width="7.0"/><line x1="88.14999999999999" y1="16.95" x2="99.50" y2="16.95" stroke="#000" stroke-width="7.0"/><line x1="794.9499999999999" y1="16.95" x2="783.60" y2="16.95" stroke="#000" stroke-width="7.0"/>
<text transform="translate(76.0,547.87) scale(1,1.05)" text-anchor="end" class="tk">40</text><text transform="translate(76.0,483.00) scale(1,1.05)" text-anchor="end" class="tk">45</text><text transform="translate(76.0,418.14) scale(1,1.05)" text-anchor="end" class="tk">50</text><text transform="translate(76.0,353.28) scale(1,1.05)" text-anchor="end" class="tk">55</text><text transform="translate(76.0,288.41) scale(1,1.05)" text-anchor="end" class="tk">60</text><text transform="translate(76.0,223.54) scale(1,1.05)" text-anchor="end" class="tk">65</text><text transform="translate(76.0,158.68) scale(1,1.05)" text-anchor="end" class="tk">70</text><text transform="translate(76.0,93.82) scale(1,1.05)" text-anchor="end" class="tk">75</text><text transform="translate(76.0,28.95) scale(1,1.05)" text-anchor="end" class="tk">80</text><text transform="translate(139.10,616.8) scale(1,1.05)" text-anchor="middle" class="tk">0</text><text transform="translate(240.00,616.8) scale(1,1.05)" text-anchor="middle" class="tk">1</text><text transform="translate(340.90,616.8) scale(1,1.05)" text-anchor="middle" class="tk">2</text><text transform="translate(441.80,616.8) scale(1,1.05)" text-anchor="middle" class="tk">3</text><text transform="translate(542.70,616.8) scale(1,1.05)" text-anchor="middle" class="tk">4</text><text transform="translate(643.60,616.8) scale(1,1.05)" text-anchor="middle" class="tk">5</text><text transform="translate(744.50,616.8) scale(1,1.05)" text-anchor="middle" class="tk">6</text>
<text x="441.2" y="645.2" text-anchor="middle" class="ttl" style="font-size:37px;word-spacing:1.5px">Time [ns]</text>
<text transform="translate(27.5,298.8) rotate(-90)" text-anchor="middle" class="ttl" style="font-size:38px">Volume fraction of <tspan font-style="italic">c</tspan>-domains (%)</text>
</svg>
</body></html>
